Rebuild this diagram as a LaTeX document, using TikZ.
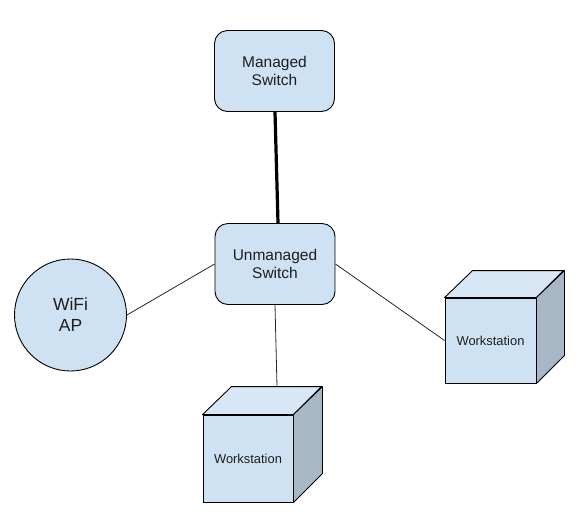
\documentclass[tikz,border=0pt]{standalone}
\usepackage{fontspec}
\setmainfont{Liberation Sans}
\definecolor{boxfill}{HTML}{CFE2F3}
\definecolor{topfill}{HTML}{D7E7F5}
\definecolor{sidefill}{HTML}{A7B7C5}
\definecolor{txt}{HTML}{1E1E1E}
\begin{document}
\begin{tikzpicture}[x=1pt,y=-1pt,
  sw/.style={draw=black, fill=boxfill, rounded corners=13pt, minimum width=120pt, minimum height=81pt,
    inner sep=0pt, align=center, text=txt, font=\fontsize{15.5}{18}\selectfont, line width=0.9pt},
  ap/.style={circle, draw=black, fill=boxfill, minimum size=112pt, inner sep=0pt, align=center,
    text=txt, font=\fontsize{17.5}{21}\selectfont, line width=0.9pt},
  front/.style={draw=black, fill=boxfill, inner sep=0pt, text=txt, font=\fontsize{12.9}{15}\selectfont,
    line width=0.9pt},
  face/.style={draw=black, line width=0.9pt, line join=round},
  link/.style={line width=0.8pt, draw=black!85},
  trunk/.style={line width=3.2pt, draw=black}]
\path[use as bounding box] (0,0) rectangle (576,520);

\node[sw] (ms) at (274.5,71) {Managed\\Switch};
\node[sw] (us) at (275,264) {Unmanaged\\Switch};
\node[ap] (ap) at (70.5,315) {WiFi\\AP};

% right workstation
\node[front, minimum width=91pt, minimum height=85pt] (w1) at (490.5,340.5) {Workstation};
\draw[face, fill=topfill] (w1.north west) -- ++(28,-27) -- ++(91,0) -- (w1.north east) -- cycle;
\draw[face, fill=sidefill] (w1.north east) -- ++(28,-27) -- ++(0,85) -- (w1.south east) -- cycle;

% bottom workstation
\node[front, minimum width=90pt, minimum height=87pt] (w2) at (248,458.5) {Workstation};
\draw[face, fill=topfill] (w2.north west) -- ++(29,-28) -- ++(90,0) -- (w2.north east) -- cycle;
\draw[face, fill=sidefill] (w2.north east) -- ++(29,-28) -- ++(0,87) -- (w2.south east) -- cycle;
\coordinate (w2top) at ([shift={(29,-28)}]w2.north);

% connectors
\draw[trunk] ([xshift=0.5pt]ms.south) -- ([xshift=3pt]us.north);
\draw[link] (ap.east) -- (us.west);
\draw[link] (us.east) -- (w1.west);
\draw[link] (us.south) -- (w2top);
\end{tikzpicture}
\end{document}
